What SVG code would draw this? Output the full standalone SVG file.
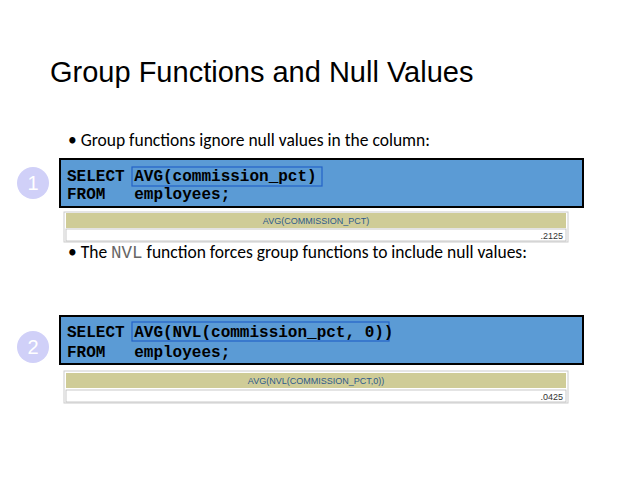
<svg xmlns="http://www.w3.org/2000/svg" width="638" height="478" viewBox="0 0 638 478">
<style>
.t{font-family:"Liberation Sans",Arial,sans-serif;fill:#000}
.b{font-family:"Carlito","Liberation Sans",sans-serif;font-size:17.5px;fill:#000}
.m{font-family:"Liberation Mono",monospace;fill:#666}
.code{font-family:"Liberation Mono",monospace;font-weight:bold;font-size:16px;fill:#000}
.box{fill:#5b9bd5;stroke:#000;stroke-width:2}
.hl{fill:none;stroke:#2463c8;stroke-width:1.2}
.circ{fill:#d0d0f8}
.num{font-family:"Liberation Sans",sans-serif;font-size:20px;fill:#fff;text-anchor:middle}
.tbl{fill:#fff;stroke:#ccc}
.hdr{fill:#cfcc97}
.row{fill:#fff;stroke:#bbb;stroke-width:0.8}
.ht{font-family:"Liberation Sans",sans-serif;font-size:9px;fill:#2d5a8a;text-anchor:middle}
.rt{font-family:"Liberation Sans",sans-serif;font-size:9px;fill:#333;text-anchor:end}
</style>
<rect width="638" height="478" fill="#fff"/>
<text class="t" x="50" y="82" font-size="29">Group Functions and Null Values</text>
<text class="b" x="68" y="146">• Group functions ignore null values in the column:</text>
<g id="n1">
<circle class="circ" cx="33" cy="183" r="16"/><text class="num" x="33" y="190">1</text>
<rect class="box" x="60" y="159" width="523" height="48"/>
<rect class="hl" x="132" y="167" width="190" height="19"/>
<text class="code" x="67" y="181" xml:space="preserve">SELECT AVG(commission_pct)</text>
<text class="code" x="67" y="199" xml:space="preserve">FROM   employees;</text>
</g>
<g id="r1">
<rect class="tbl" x="64" y="212" width="504" height="30"/>
<rect class="hdr" x="66" y="213" width="500" height="15"/>
<text class="ht" x="316" y="224">AVG(COMMISSION_PCT)</text>
<rect class="row" x="66" y="229" width="500" height="12"/>
<text class="rt" x="563" y="239">.2125</text>
</g>
<text class="b" x="68" y="258">• The <tspan class="m">NVL</tspan> function forces group functions to include null values:</text>
<g id="n2">
<circle class="circ" cx="33" cy="347" r="16"/><text class="num" x="33" y="354">2</text>
<rect class="box" x="60" y="316" width="523" height="48"/>
<rect class="hl" x="132" y="322" width="257" height="19"/>
<text class="code" x="67" y="337" xml:space="preserve">SELECT AVG(NVL(commission_pct, 0))</text>
<text class="code" x="67" y="357" xml:space="preserve">FROM   employees;</text>
</g>
<g id="r2">
<rect class="tbl" x="64" y="371" width="504" height="32"/>
<rect class="hdr" x="66" y="373" width="500" height="15"/>
<text class="ht" x="316" y="384">AVG(NVL(COMMISSION_PCT,0))</text>
<rect class="row" x="66" y="390" width="500" height="12"/>
<text class="rt" x="563" y="400">.0425</text>
</g>
<g id="connectors"/>
</svg>
